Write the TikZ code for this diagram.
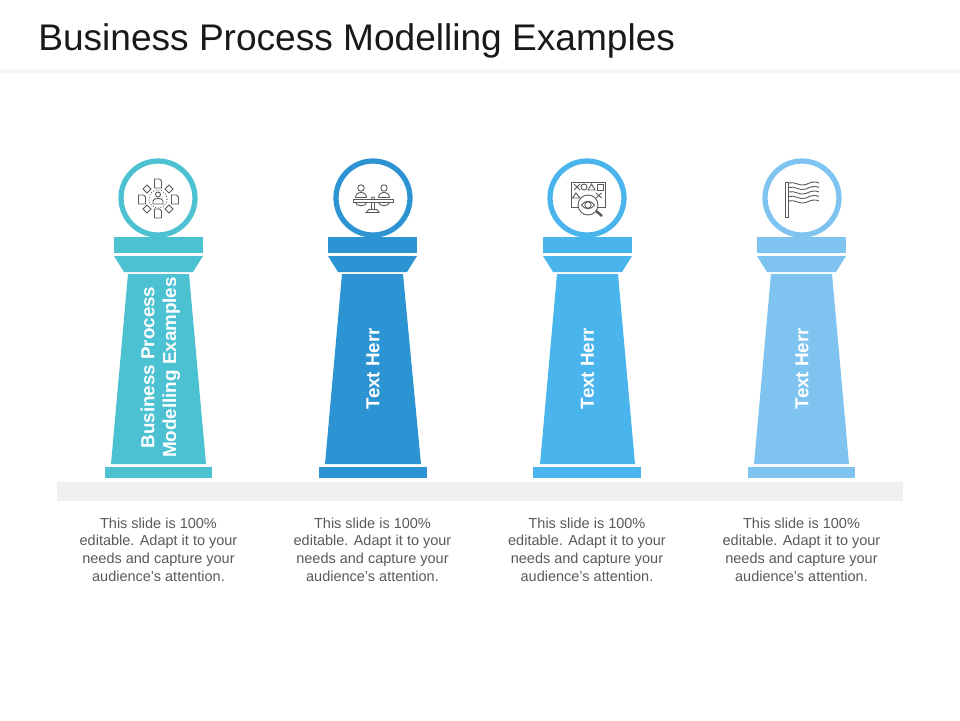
\documentclass[tikz,border=0pt]{standalone}
\usepackage{fontspec}
\setmainfont{Liberation Sans}
\definecolor{tealbar}{HTML}{4CC1D2}
\definecolor{bluebar}{HTML}{2C94D2}
\definecolor{skybar}{HTML}{4AB5EC}
\definecolor{palebar}{HTML}{7FC4F0}
\definecolor{bandgray}{HTML}{F0F0F0}
\definecolor{icongray}{HTML}{5A5A5A}
\definecolor{bodygray}{HTML}{595959}
\tikzset{
  titletext/.style={anchor=west,inner sep=0pt,text=black!90,font=\fontsize{21.1}{24}\selectfont},
  bodytext/.style={anchor=center,inner sep=0pt,align=center,text=bodygray,font=\fontsize{8.25}{10}\selectfont},
  shafttext/.style={anchor=center,inner sep=0pt,align=center,rotate=90,text=white,font=\fontsize{10.7}{12.4}\selectfont\bfseries},
  ring/.style={line width=0.105cm,fill=white},
  icon/.style={draw=icongray,line width=0.018cm},
}
\begin{document}
\begin{tikzpicture}[x=0.02cm,y=-0.02cm]
\useasboundingbox (0,0) rectangle (960,720);

% Title and rule under it
\node [titletext] (title) at (38,41) {Business Process Modelling Examples};
\fill [bandgray!70] (0,69) rectangle (960,73);

% Floor band
\fill [bandgray] (57,482) rectangle (903,501);

% Pillar one
\fill [tealbar] (114,237) rectangle (203,253);
\fill [tealbar] (114,256) -- (203,256) -- (193,272) -- (124,272) -- cycle;
\fill [tealbar] (128,274) -- (189,274) -- (206,464) -- (111,464) -- cycle;
\fill [tealbar] (105,467) rectangle (212,478);
\draw [ring,draw=tealbar] (158,198) circle (37);
\node [shafttext] (shaftone) at (160.5,367.5) {Business Process\\Modelling Examples};

% Pillar two
\fill [bluebar] (328,237) rectangle (417,253);
\fill [bluebar] (328,256) -- (417,256) -- (407,272) -- (338,272) -- cycle;
\fill [bluebar] (342,274) -- (403,274) -- (421,464) -- (325,464) -- cycle;
\fill [bluebar] (319,467) rectangle (427,478);
\draw [ring,draw=bluebar] (373,198) circle (37);
\node [shafttext] (shafttwo) at (373,368.5) {Text Herr};

% Pillar three
\fill [skybar] (543,237) rectangle (632,253);
\fill [skybar] (543,256) -- (632,256) -- (622,272) -- (553,272) -- cycle;
\fill [skybar] (557,274) -- (618,274) -- (635,464) -- (540,464) -- cycle;
\fill [skybar] (533,467) rectangle (641,478);
\draw [ring,draw=skybar] (587,198) circle (37);
\node [shafttext] (shaftthree) at (587.5,368.5) {Text Herr};

% Pillar four
\fill [palebar] (757,237) rectangle (846,253);
\fill [palebar] (757,256) -- (846,256) -- (836,272) -- (767,272) -- cycle;
\fill [palebar] (771,274) -- (832,274) -- (849,464) -- (754,464) -- cycle;
\fill [palebar] (748,467) rectangle (855,478);
\draw [ring,draw=palebar] (802,198) circle (37);
\node [shafttext] (shaftfour) at (802,368.5) {Text Herr};

% Icon one: person among documents
\draw [icon,densely dotted] (158,199) circle (9);
\draw [icon] (158,194.5) circle (2.5);
\draw [icon] (153,204) -- (153,201) .. controls (153,197.5) and (163,197.5) .. (163,201) -- (163,204) -- cycle;
\draw [icon] (154.5,179) -- (159.5,179) -- (161.5,181) -- (161.5,188) -- (154.5,188) -- cycle;
\draw [icon] (154.5,209) -- (159.5,209) -- (161.5,211) -- (161.5,218) -- (154.5,218) -- cycle;
\draw [icon] (138.5,195) -- (143.5,195) -- (145.5,197) -- (145.5,204) -- (138.5,204) -- cycle;
\draw [icon] (171.5,195) -- (176.5,195) -- (178.5,197) -- (178.5,204) -- (171.5,204) -- cycle;
\draw [icon] (147,185) -- (151,189) -- (147,193) -- (143,189) -- cycle;
\draw [icon] (169,185) -- (173,189) -- (169,193) -- (165,189) -- cycle;
\draw [icon] (147,205) -- (151,209) -- (147,213) -- (143,209) -- cycle;
\draw [icon] (169,205) -- (173,209) -- (169,213) -- (165,209) -- cycle;

% Icon two: balance with two persons
\draw [icon] (361,188) circle (3.2);
\draw [icon] (384,188) circle (3.2);
\draw [icon] (355.5,197.5) .. controls (356,190.5) and (366,190.5) .. (366.5,197.5) -- cycle;
\draw [icon] (378.5,197.5) .. controls (379,190.5) and (389,190.5) .. (389.5,197.5) -- cycle;
\draw [icon] (353,199.5) rectangle (393,202);
\draw [icon] (355,202) .. controls (356,207) and (366,207) .. (367,202);
\draw [icon] (378,202) .. controls (379,207) and (389,207) .. (390,202);
\draw [icon] (371.5,199.5) -- (372,197) -- (374,197) -- (374.5,199.5);
\draw [icon] (371.5,202) -- (371.5,209.5);
\draw [icon] (374.5,202) -- (374.5,209.5);
\draw [icon] (369,209.5) -- (377,209.5) -- (379,212.5) -- (366,212.5) -- cycle;

% Icon three: board of shapes under a lens
\draw [icon] (571,182) rectangle (605,207);
\draw [icon] (574,184) -- (580,190) (580,184) -- (574,190);
\draw [icon] (584,187) circle (3);
\draw [icon] (591.5,184) -- (595,190) -- (588,190) -- cycle;
\draw [icon] (597,184) rectangle (603,190);
\draw [icon] (576,193) -- (580,198) -- (572.5,198) -- cycle;
\draw [icon] (596,193) -- (601.5,198) (601.5,193) -- (596,198);
\draw [icon,fill=white] (588,205) circle (10);
\draw [icon] (581.5,205) .. controls (585,200) and (591,200) .. (594.5,205) .. controls (591,210) and (585,210) .. (581.5,205) -- cycle;
\draw [icon] (588,205) circle (3.2);
\draw [icon,line width=0.05cm] (596,211) -- (602,216);

% Icon four: flag on a pole
\draw [icon] (785,182) rectangle (788,217);
\draw [icon] (788,183) .. controls (795,181) and (800,187) .. (806,184.5) .. controls (811,182) and (815,181) .. (819,183);
\draw [icon] (788,187.5) .. controls (795,185.5) and (800,191.5) .. (806,189) .. controls (811,186.5) and (815,185.5) .. (819,187.5);
\draw [icon] (788,192) .. controls (795,190) and (800,196) .. (806,193.5) .. controls (811,191) and (815,190) .. (819,192);
\draw [icon] (788,196.5) .. controls (795,194.5) and (800,200.5) .. (806,198) .. controls (811,195.5) and (815,194.5) .. (819,196.5);
\draw [icon] (788,201) .. controls (795,199) and (800,205) .. (806,202.5) .. controls (811,200) and (815,199) .. (819,201);

% Texts under the band
\node [bodytext] (noteone) at (158.5,549.5) {This slide is 100\%\\editable. Adapt it to your\\needs and capture your\\audience's attention.};
\node [bodytext] (notetwo) at (372.5,549.5) {This slide is 100\%\\editable. Adapt it to your\\needs and capture your\\audience's attention.};
\node [bodytext] (notethree) at (587,549.5) {This slide is 100\%\\editable. Adapt it to your\\needs and capture your\\audience's attention.};
\node [bodytext] (notefour) at (801.5,549.5) {This slide is 100\%\\editable. Adapt it to your\\needs and capture your\\audience's attention.};
\end{tikzpicture}
\end{document}
